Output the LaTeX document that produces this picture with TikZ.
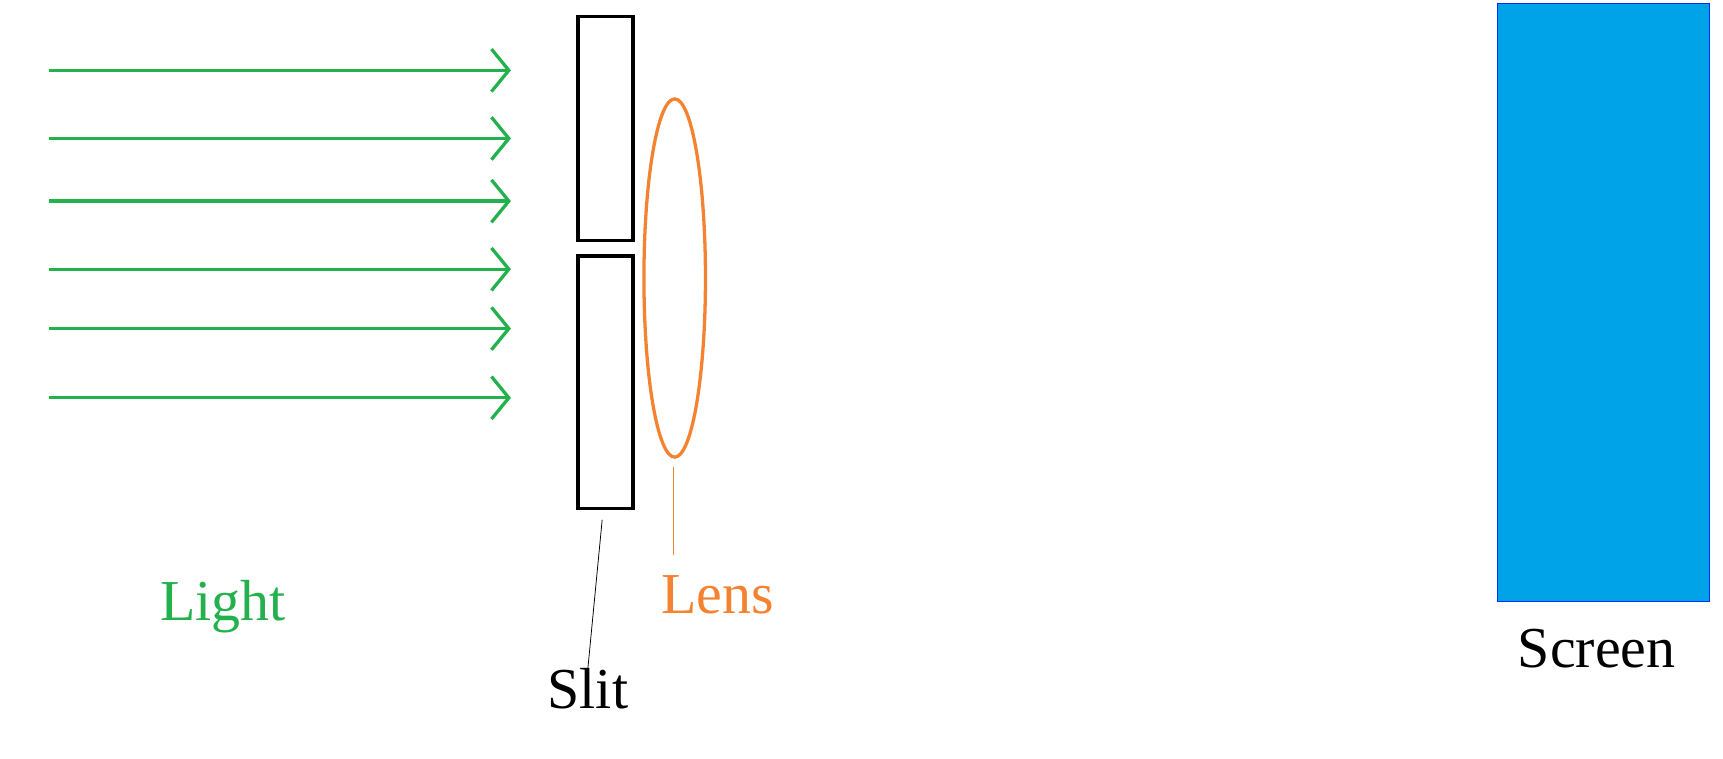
\documentclass[tikz,border=0pt]{standalone}
\usepackage{fontspec}
\setmainfont{Liberation Serif}
\usetikzlibrary{arrows.meta}
\definecolor{lg}{HTML}{22B14C}
\definecolor{lo}{HTML}{F58230}
\definecolor{lb}{HTML}{00A2E8}
\begin{document}
\begin{tikzpicture}[x=0.02cm,y=-0.02cm,
  ray/.style={draw=lg,line width=1.7pt,-{Straight Barb[length=9pt,width=22pt,line width=1.7pt]}},
  lbl/.style={font=\fontsize{30}{32}\selectfont,inner sep=0pt}]
\useasboundingbox (0,0) rectangle (1568,690);
\foreach \y [count=\i] in {64,126,183,245,299,362}{
  \coordinate (s\i) at (45,\y); \coordinate (e\i) at (465,\y);
  \draw[ray] (s\i) -- (e\i);}
\node[draw,line width=1.7pt,minimum width=50*0.02cm,minimum height=204*0.02cm,inner sep=0pt] (slitA) at (551,117) {};
\node[draw,line width=1.7pt,minimum width=50*0.02cm,minimum height=230*0.02cm,inner sep=0pt] (slitB) at (551,348) {};
\draw[lo,line width=1.7pt] (614,253) ellipse [x radius=28, y radius=163];
\coordinate (lensbot) at (613,425);
\coordinate (slitbot) at (548,473);
\node[draw=blue!70!lb,fill=lb,minimum width=193*0.02cm,minimum height=544*0.02cm,inner sep=0pt] (screen) at (1459.5,275) {};
\node[lbl,text=lg] (light) at (203,552) {Light};
\node[lbl,text=lo] (lens) at (653,541) {Lens};
\node[lbl] (slit) at (535,627) {Slit};
\node[lbl] (scr) at (1453,590) {Screen};
\draw[lo,line width=0.5pt] (lensbot) -- (613,505);
\draw[line width=0.4pt] (slitbot) -- (slit.north);
\end{tikzpicture}
\end{document}
